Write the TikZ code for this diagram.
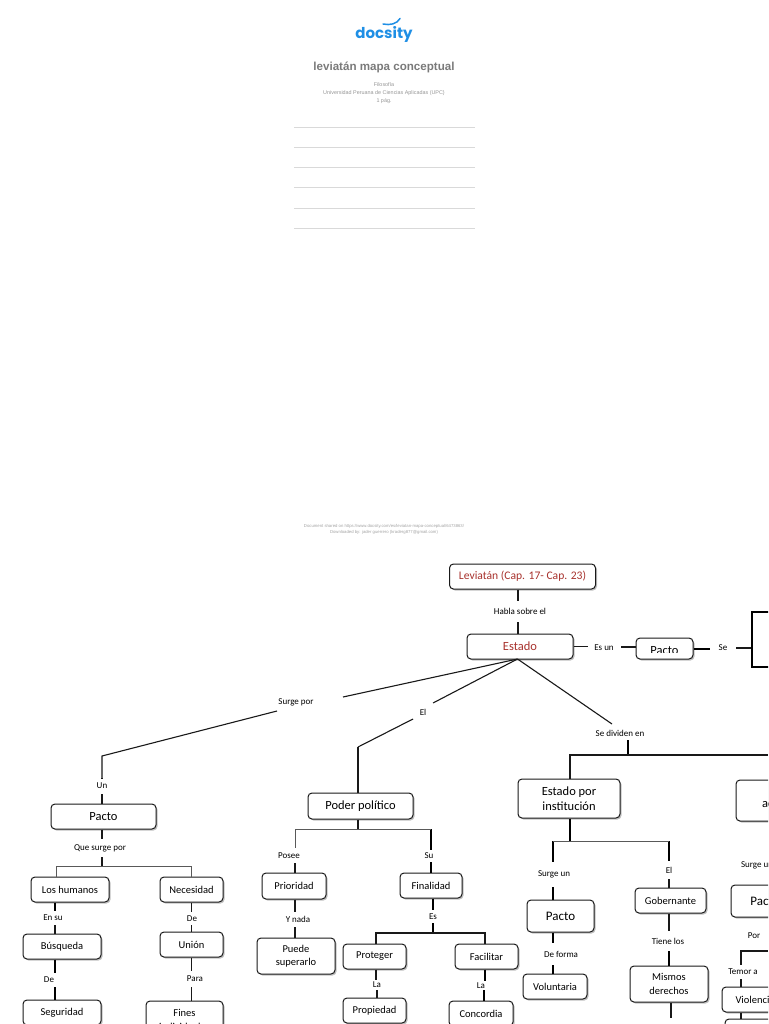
\documentclass[tikz,border=0pt]{standalone}
\usepackage{fontspec}
\setmainfont{Carlito}
\newfontfamily\headfont{Liberation Sans}
\newfontfamily\logofont{Poppins}
\usetikzlibrary{shadows}
\definecolor{logoblue}{HTML}{1F8FE5}
\definecolor{levred}{HTML}{A8322D}
\definecolor{headgray}{HTML}{7A7A7A}
\tikzset{
	cbox/.style 2 args={draw=black!90,fill=white,rounded corners=4pt,line width=1pt,inner sep=0pt,
		minimum width=#1pt,minimum height=#2pt,align=center,text=black,
		drop shadow={shadow xshift=1.5pt,shadow yshift=-1.5pt,opacity=.5},
		font=\fontsize{10.5}{13.5}\selectfont},
	big/.style={font=\fontsize{12.5}{15.5}\selectfont},
	lab/.style={inner sep=0pt,minimum height=#1pt,text=black,font=\fontsize{9}{11}\selectfont},
	lab/.default=14,
	link/.style={draw=black!90,line width=1.1pt},
	linkb/.style={draw=black,line width=1.7pt},
	bar/.style={draw=black!65,line width=.9pt},
	rule/.style={draw=black!15,line width=.6pt},
	small/.style={text=headgray!80,inner sep=0pt,font=\headfont\fontsize{5.4}{6.5}\selectfont},
	tiny/.style={text=headgray!70,inner sep=0pt,font=\headfont\fontsize{4.25}{5}\selectfont}
}
\begin{document}
\begin{tikzpicture}[x=1pt,y=-1pt]
	\useasboundingbox (0,0) rectangle (768,1024);
	\clip (0,0) rectangle (768,1024);

	\node[inner sep=0pt,text=logoblue,font=\logofont\fontsize{15}{17}\selectfont\bfseries] (logo) at (384,34.5) {docsity};
	\coordinate (smilea) at (383,24);
	\coordinate (smileb) at (400,18.5);
	\draw[logoblue,line width=1.5pt,line cap=round] (smilea) .. controls (390,25.5) and (397,24) .. (smileb);
	\node[inner sep=0pt,text=headgray,font=\headfont\bfseries\fontsize{11.6}{14}\selectfont] (title) at (384,67.5) {leviatán mapa conceptual};
	\node[small] (matter) at (384,85) {Filosofía};
	\node[small] (univ) at (384,93) {Universidad Peruana de Ciencias Aplicadas (UPC)};
	\node[small] (pag) at (384,101.5) {1 pág.};
	\foreach \y in {127,147.3,167.6,187.8,208,228}
		\draw[rule] (294,\y) -- (475,\y);
	\node[tiny] (shared) at (384,526) {Document shared on https://www.docsity.com/es/leviatan-mapa-conceptual/6473863/};
	\node[tiny] (down) at (384,532.5) {Downloaded by: jader guerrero (kraderg877@gmail.com)};

	\node[cbox={146}{25},text=levred,font=\fontsize{11.6}{14}\selectfont] (lev) at (522.5,576.5) {Leviatán (Cap. 17- Cap. 23)};
	\node[cbox={106}{25},big,text=levred] (estado) at (520,646.5) {Estado};
	\node[cbox={57}{21},path picture={
		\clip (path picture bounding box.north west) rectangle ([yshift=7pt]path picture bounding box.south east);
		\node[big,text=black] (pactotxt) at ([yshift=-2.5pt]path picture bounding box.center) {Pacto};
	}] (pactotop) at (664.5,648.5) {};
	\node[draw=black,fill=white,line width=1.5pt,minimum width=60pt,minimum height=55pt,inner sep=0pt] (sebox) at (782,639.5) {};

	\node[lab=21] (habla) at (520,611.5) {Habla sobre el};
	\node[lab] (esun) at (604,648) {Es un};
	\node[lab] (se) at (723,648) {Se};
	\node[lab] (surge) at (296,702) {Surge por};
	\node[lab] (el) at (423,712) {El};
	\node[lab] (divid) at (620,733) {Se dividen en};

	\draw[link] (518,0 |- lev.south) -- (518,0 |- habla.north);
	\draw[link] (518,0 |- habla.south) -- (518,0 |- estado.north);
	\draw[link] (estado.east) -- (588,646.5);
	\draw[link] (621,647) -- (621,647 -| pactotop.west);
	\draw[linkb] (pactotop.east |- 0,648.7) -- (710,648.7);
	\draw[link] (736,648) -- (736,648 -| sebox.west);

	\coordinate (sura) at (343,697);
	\coordinate (surb) at (277,711);
	\coordinate (surc) at (102,756);
	\coordinate (sure) at (102,778);
	\coordinate (ela) at (433,703);
	\coordinate (elb) at (413,719);
	\coordinate (elc) at (358,747);
	\coordinate (diva) at (612,724);
	\coordinate (estfoot) at (517.5,659);
	\draw[link] (estfoot) -- (sura);
	\draw[link] (surb) -- (surc) -- (sure);
	\draw[link] (estfoot) -- (ela);
	\draw[link] (elb) -- (elc);
	\draw[link] (estfoot) -- (diva);

	\node[cbox={105}{25},big] (pactoa) at (103.5,816.5) {Pacto};
	\node[lab=16] (un) at (102,786) {Un};
	\node[lab=18] (que) at (100,848) {Que surge por};
	\node[cbox={78}{25}] (humanos) at (70,889.5) {Los humanos};
	\node[cbox={63}{25}] (nece) at (191.5,889.5) {Necesidad};
	\node[lab] (ensu) at (53,918) {En su};
	\node[cbox={78}{25}] (busq) at (62,946.5) {Búsqueda};
	\node[lab] (dea) at (49,980) {De};
	\node[cbox={78}{25}] (segu) at (62,1012.5) {Seguridad};
	\node[lab=13] (deb) at (192,918.5) {De};
	\node[cbox={63}{25}] (union) at (191.5,944.5) {Unión};
	\node[lab=16] (para) at (195,979) {Para};
	\node[cbox={77}{38}] (fines) at (184.5,1020) {Fines\\individuales};

	\draw[link] (sure) -- (102,0 |- un.north);
	\draw[link] (102,0 |- un.south) -- (102,0 |- pactoa.north);
	\draw[link] (102,0 |- pactoa.south) -- (102,0 |- que.north);
	\coordinate (barpacto) at (102,866.7);
	\draw[link] (102,0 |- que.south) -- (barpacto);
	\draw[bar] (56,0 |- humanos.north) |- (barpacto);
	\draw[bar] (191.5,0 |- nece.north) |- (barpacto);
	\draw[linkb] (55,0 |- humanos.south) -- (55,0 |- ensu.north);
	\draw[link] (55,0 |- ensu.south) -- (55,0 |- busq.north);
	\draw[linkb] (55,0 |- busq.south) -- (55,0 |- dea.north);
	\draw[linkb] (55,0 |- dea.south) -- (55,0 |- segu.north);
	\draw[link] (191.5,0 |- nece.south) -- (191.5,0 |- deb.north);
	\draw[link] (191.5,0 |- deb.south) -- (191.5,0 |- union.north);
	\draw[link] (191.5,0 |- union.south) -- (191.5,0 |- para.north);
	\draw[link] (191.5,0 |- para.south) -- (191.5,0 |- fines.north);

	\node[cbox={105}{26},big] (poder) at (360.5,806) {Poder político};
	\node[lab=15] (posee) at (289,855.5) {Posee};
	\node[lab=12] (su) at (429,856) {Su};
	\node[cbox={64}{26}] (prior) at (294,886) {Prioridad};
	\node[cbox={62}{25}] (final) at (431,885.5) {Finalidad};
	\node[lab=15] (ynada) at (298,919.5) {Y nada};
	\node[cbox={78}{36}] (puede) at (296,956) {Puede\\superarlo};
	\node[lab=13] (es) at (433,916.5) {Es};
	\node[cbox={63}{25}] (proteger) at (374.5,956.5) {Proteger};
	\node[cbox={63}{25}] (facil) at (486.5,956.5) {Facilitar};
	\node[lab=10] (laa) at (377,985) {La};
	\node[lab=9] (lab) at (481,985.5) {La};
	\node[cbox={63}{25}] (propi) at (374.5,1010.5) {Propiedad};
	\node[cbox={64}{25}] (conco) at (481,1013.5) {Concordia};

	\draw[link] (elc) -- (358,0 |- poder.north);
	\coordinate (barpoder) at (358,829);
	\draw[link] (358,0 |- poder.south) -- (barpoder);
	\draw[bar] (295,0 |- posee.north) |- (barpoder);
	\draw[linkb] (431,0 |- su.north) -- (431,0 |- barpoder);
	\draw[bar] (431,0 |- barpoder) -- (barpoder);
	\draw[link] (295,0 |- posee.south) -- (295,0 |- prior.north);
	\draw[linkb] (431,0 |- su.south) -- (431,0 |- final.north);
	\draw[link] (295,0 |- prior.south) -- (295,0 |- ynada.north);
	\draw[link] (295,0 |- ynada.south) -- (295,0 |- puede.north);
	\draw[linkb] (433,0 |- final.south) -- (433,0 |- es.north);
	\coordinate (bares) at (433,933);
	\draw[linkb] (433,0 |- es.south) -- (bares);
	\draw[link] (376,0 |- proteger.north) |- (bares);
	\draw[link] (485,0 |- facil.north) |- (bares);
	\draw[link] (376,0 |- proteger.south) -- (376,0 |- laa.north);
	\draw[link] (377,0 |- laa.south) -- (377,0 |- propi.north);
	\draw[linkb] (485,0 |- facil.south) -- (485,0 |- lab.north);
	\draw[linkb] (484,0 |- lab.south) -- (484,0 |- conco.north);

	\coordinate (divbar) at (627.7,755);
	\coordinate (divend) at (768,755);
	\draw[linkb] (627.7,0 |- divid.south) -- (divbar);
	\node[cbox={102}{39},big] (inst) at (569,798.5) {Estado por\\institución};
	\node[lab=25] (surgun) at (554,874.5) {Surge un};
	\node[lab=18] (ela2) at (669,870) {El};
	\node[cbox={67}{32},font=\fontsize{13}{15}\selectfont] (pactob) at (560.5,916) {Pacto};
	\node[cbox={71}{25}] (gober) at (670.5,900.5) {Gobernante};
	\node[lab=22] (forma) at (561,954) {De forma};
	\node[lab=20] (tiene) at (668,941) {Tiene los};
	\node[cbox={64}{25}] (volun) at (555,986.5) {Voluntaria};
	\node[cbox={78}{36}] (mismos) at (669,984) {Mismos\\derechos};
	\coordinate (mismend) at (671,1018);

	\draw[link] (570,0 |- inst.north) |- (divend);
	\coordinate (barinst) at (570,841);
	\draw[linkb] (570,0 |- inst.south) -- (barinst);
	\draw[linkb] (553,0 |- surgun.north) -- (553,0 |- barinst);
	\draw[linkb] (669,0 |- ela2.north) -- (669,0 |- barinst);
	\draw[bar] (553,0 |- barinst) -- (669,0 |- barinst);
	\draw[linkb] (553,0 |- surgun.south) -- (553,0 |- pactob.north);
	\draw[linkb] (553,0 |- pactob.south) -- (553,0 |- forma.north);
	\draw[linkb] (553,0 |- forma.south) -- (553,0 |- volun.north);
	\draw[link] (669,0 |- ela2.south) -- (669,0 |- gober.north);
	\draw[link] (669,0 |- gober.south) -- (669,0 |- tiene.north);
	\draw[linkb] (669,0 |- tiene.south) -- (669,0 |- mismos.north);
	\draw[link] (671,0 |- mismos.south) -- (mismend);

	\node[cbox={110}{41},big] (adq) at (791,800.5) {\mbox{}\\adquisición};
	\node[lab] (surgeu) at (757,865) {Surge un};
	\node[cbox={68}{32},font=\fontsize{13}{15}\selectfont] (pactoc) at (765,901) {Pacto};
	\node[lab] (por) at (754,936) {Por};
	\node[lab] (temor) at (743,972) {Temor a};
	\node[cbox={66}{25}] (violen) at (755,999.5) {Violencia};
	\node[cbox={80}{30}] (nextbox) at (765,1034) {};
	\coordinate (barpor) at (768,951);
	\draw[link] (741,0 |- temor.north) |- (barpor);
	\draw[link] (741,0 |- temor.south) -- (741,0 |- violen.north);
	\draw[link] (741,0 |- violen.south) -- (741,0 |- nextbox.north);
\end{tikzpicture}
\end{document}
